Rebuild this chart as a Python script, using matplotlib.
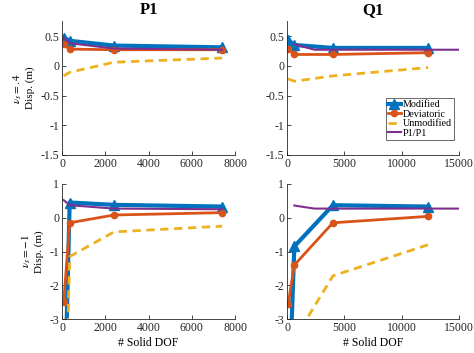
import matplotlib
matplotlib.use('Agg')
import matplotlib.pyplot as plt

plt.rcParams['font.family'] = ['Liberation Serif', 'DejaVu Serif']
plt.rcParams['mathtext.fontset'] = 'stix'
plt.rcParams['axes.unicode_minus'] = False

# dof counts
x_p1 = [75, 350, 2400, 7400]
x_q1 = [100, 640, 4000, 12300]
x_pp_p1 = [75, 350, 2400, 7400]
x_pp_q1 = [640, 2400, 8000, 15000]

# nu_s = .4
mod_p1_a = [0.47, 0.42, 0.34, 0.31]
dev_p1_a = [0.36, 0.28, 0.27, 0.27]
unm_p1_a = [-0.17, -0.11, 0.06, 0.13]
pp_p1_a = [0.47, 0.38, 0.29, 0.27]
mod_q1_a = [0.43, 0.35, 0.30, 0.30]
dev_q1_a = [0.28, 0.19, 0.19, 0.22]
unm_q1_a = [-0.22, -0.26, -0.17, -0.03]
pp_q1_a = [0.36, 0.27, 0.27, 0.27]

# nu_s = -1
mod_p1_b = [-6.6, 0.45, 0.38, 0.33]
dev_p1_b = [-2.5, -0.15, 0.08, 0.15]
unm_p1_b = [-8.0, -1.15, -0.42, -0.25]
pp_p1_b = [0.52, 0.37, 0.27, 0.25]
mod_q1_b = [-6.0, -0.85, 0.37, 0.33]
dev_q1_b = [-2.55, -1.4, -0.15, 0.04]
unm_q1_b = [-6.5, -3.6, -1.72, -0.8]
pp_q1_b = [0.36, 0.27, 0.27, 0.27]

blue = '#0072BD'
orange = '#D95319'
yellow = '#EDB120'
purple = '#7E2F8E'

fig = plt.figure(figsize=(4.74, 3.53), dpi=100)
ax1 = fig.add_axes([0.131, 0.561, 0.365, 0.379])
ax2 = fig.add_axes([0.6055, 0.561, 0.363, 0.379])
ax3 = fig.add_axes([0.131, 0.096, 0.365, 0.383])
ax4 = fig.add_axes([0.6055, 0.096, 0.363, 0.383])

def draw(ax, x, mod, dev, unm, xpp, pp):
    ax.plot(x, mod, '-^', color=blue, lw=3, ms=7, label='Modified')
    ax.plot(x, dev, '-o', color=orange, lw=2, ms=4.5, label='Deviatoric')
    ax.plot(x, unm, '--', color=yellow, lw=2, label='Unmodified', dashes=(3, 2))
    ax.plot(xpp, pp, '-', color=purple, lw=1.5, label='P1/P1')

draw(ax1, x_p1, mod_p1_a, dev_p1_a, unm_p1_a, x_pp_p1, pp_p1_a)
draw(ax2, x_q1, mod_q1_a, dev_q1_a, unm_q1_a, x_pp_q1, pp_q1_a)
draw(ax3, x_p1, mod_p1_b, dev_p1_b, unm_p1_b, x_pp_p1, pp_p1_b)
draw(ax4, x_q1, mod_q1_b, dev_q1_b, unm_q1_b, x_pp_q1, pp_q1_b)

for ax in [ax1, ax2, ax3, ax4]:
    for s in ['top', 'right']:
        ax.spines[s].set_visible(False)
    for s in ['left', 'bottom']:
        ax.spines[s].set_color('#262626')
        ax.spines[s].set_linewidth(0.6)
    ax.tick_params(direction='in', labelsize=8.5, length=3, width=0.6, colors='#262626', pad=2)

for ax in [ax1, ax2]:
    ax.set_ylim(-1.5, 0.75)
    ax.set_yticks([-1.5, -1, -0.5, 0, 0.5])
    ax.set_yticklabels(['-1.5', '-1', '-0.5', '0', '0.5'])
for ax in [ax3, ax4]:
    ax.set_ylim(-3, 1)
    ax.set_yticks([-3, -2, -1, 0, 1])
    ax.set_yticklabels(['-3', '-2', '-1', '0', '1'])
for ax in [ax1, ax3]:
    ax.set_xlim(0, 8000)
    ax.set_xticks([0, 2000, 4000, 6000, 8000])
for ax in [ax2, ax4]:
    ax.set_xlim(0, 15000)
    ax.set_xticks([0, 5000, 10000, 15000])

ax1.set_title('P1', fontsize=12, fontweight='bold', pad=5)
ax2.set_title('Q1', fontsize=12, fontweight='bold', pad=5)
ax1.set_ylabel('$\\nu_s = .4$\nDisp. (m)', fontsize=8)
ax3.set_ylabel('$\\nu_s = -1$\nDisp. (m)', fontsize=8)
ax3.set_xlabel('# Solid DOF', fontsize=8.5, labelpad=2)
ax4.set_xlabel('# Solid DOF', fontsize=8.5, labelpad=2)

leg = ax2.legend(loc='lower right', bbox_to_anchor=(0.971, 0.112), fontsize=7.3,
                 frameon=True, fancybox=False, borderpad=0.2, labelspacing=0.05,
                 handlelength=1.3, handletextpad=0.2, borderaxespad=0)
leg.get_frame().set_edgecolor('#262626')
leg.get_frame().set_linewidth(0.6)

fig.savefig('out.png', dpi=100)
